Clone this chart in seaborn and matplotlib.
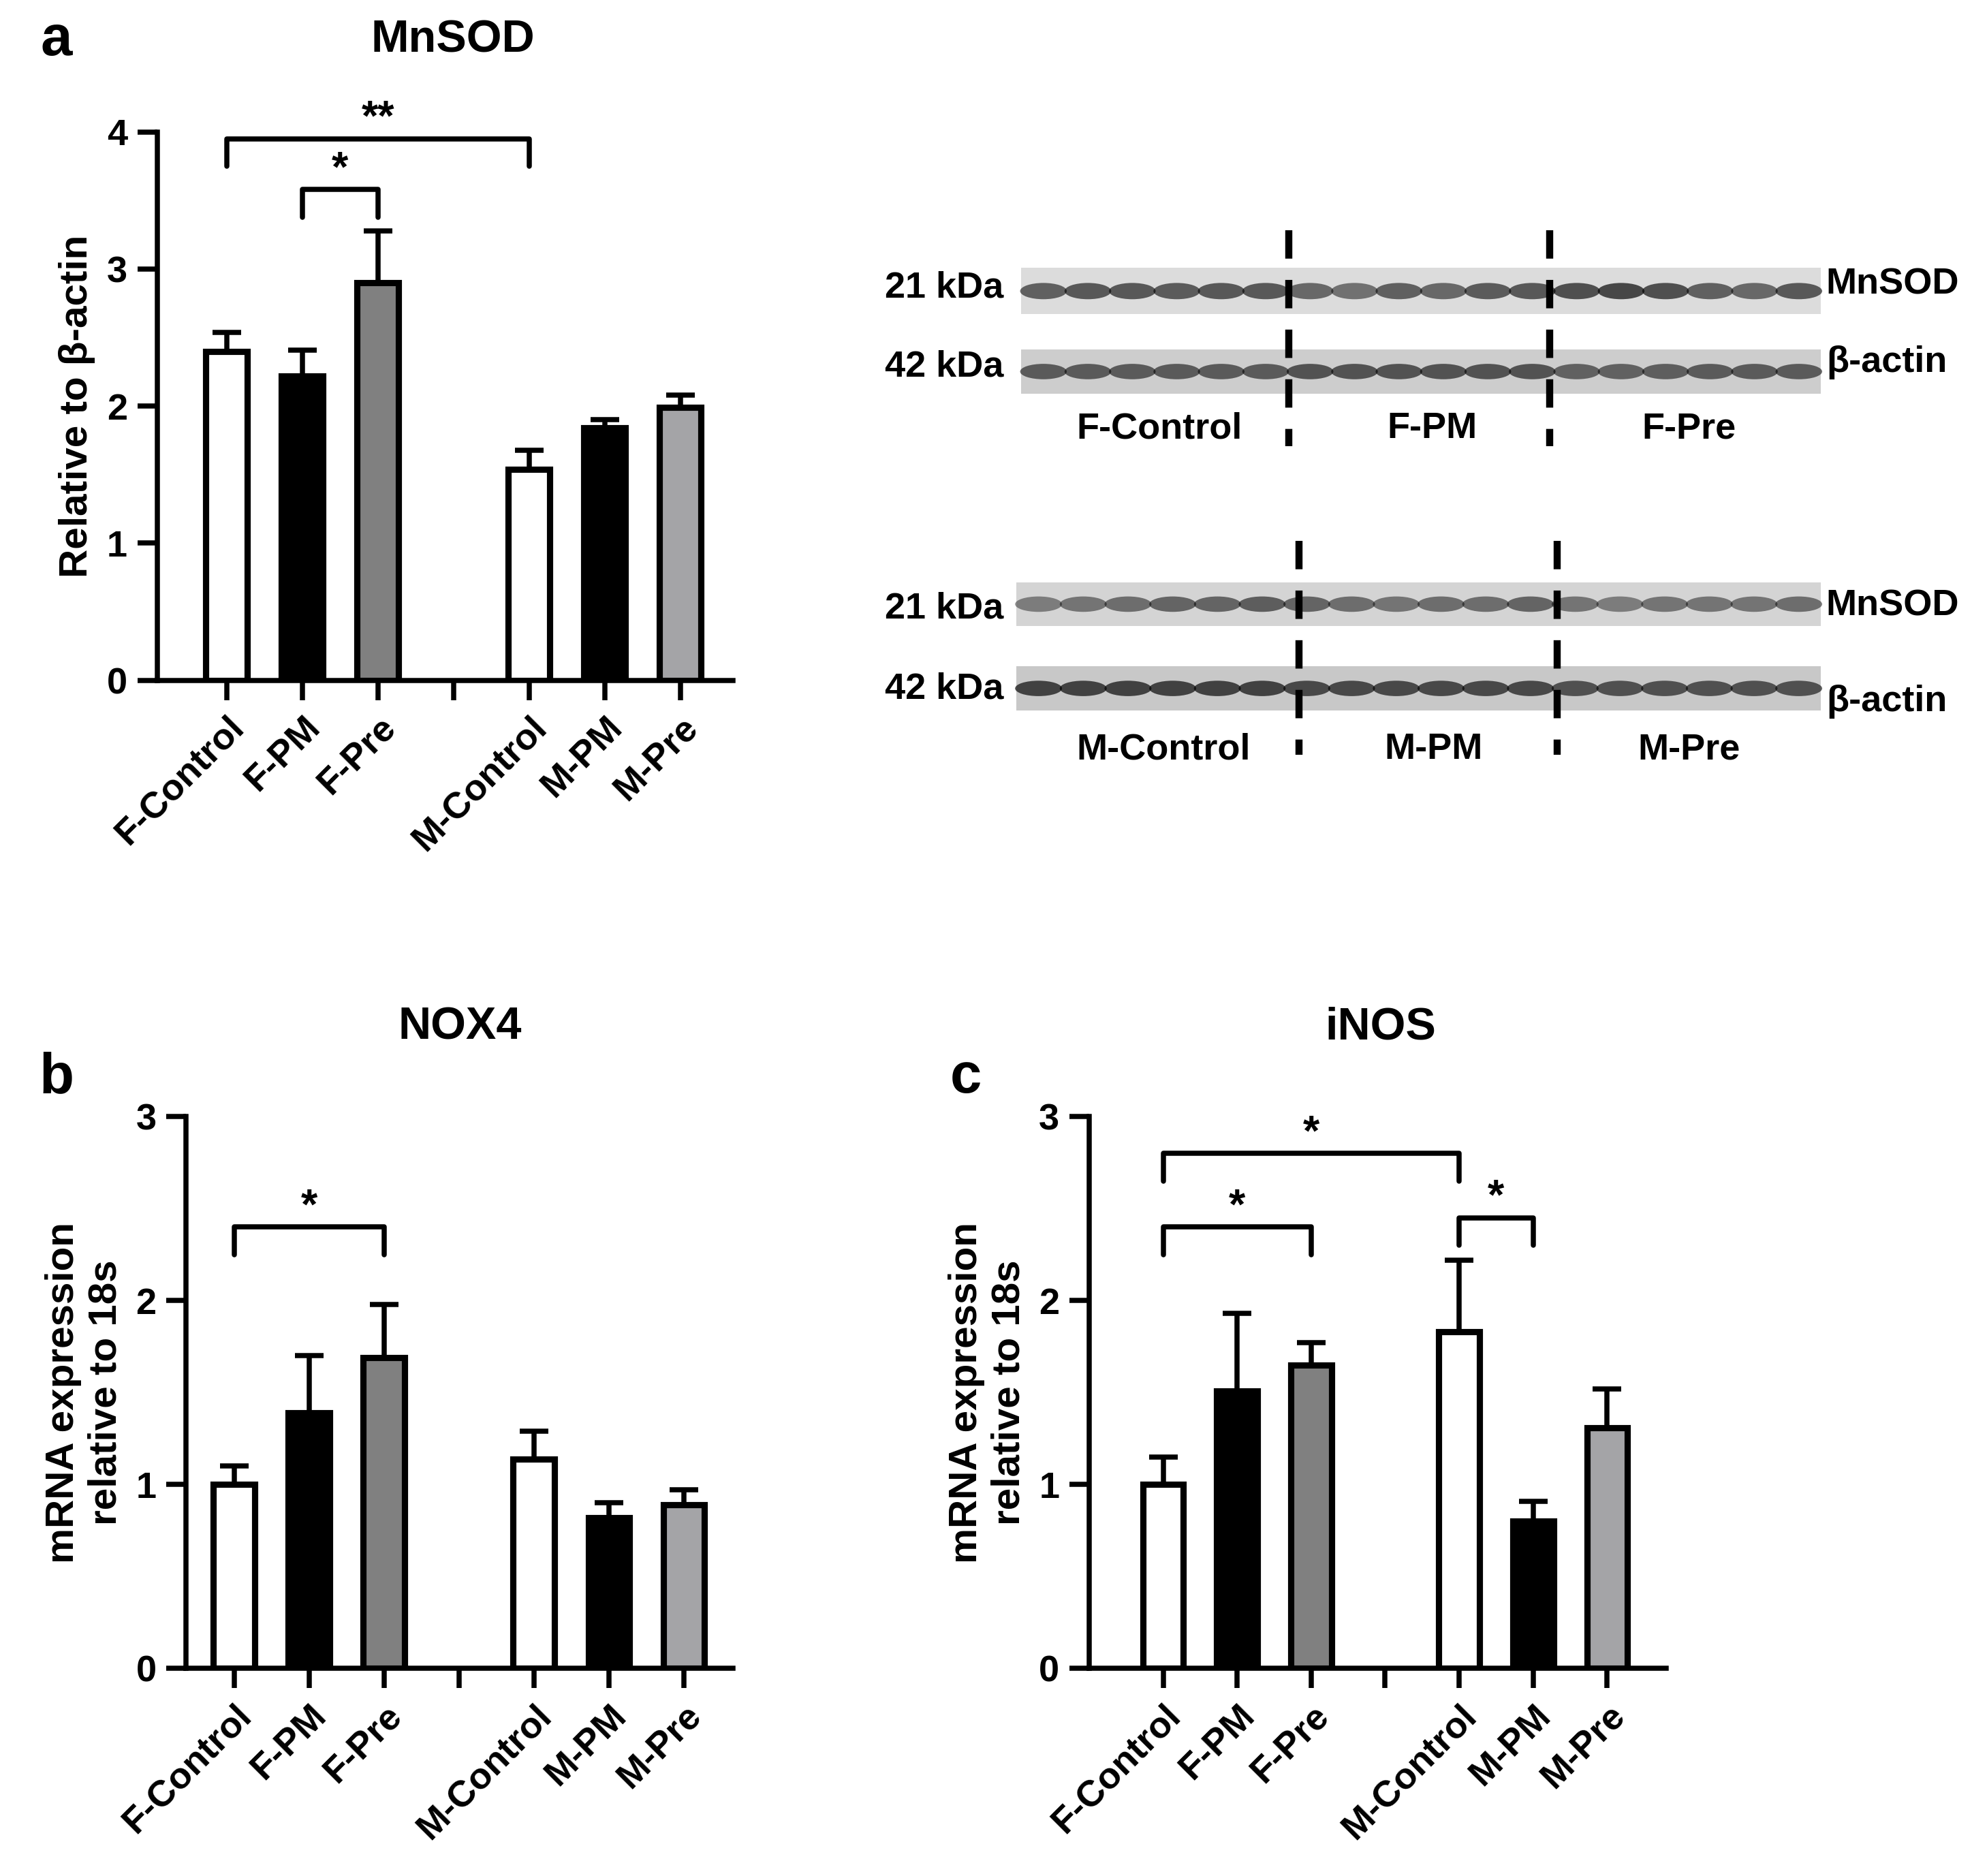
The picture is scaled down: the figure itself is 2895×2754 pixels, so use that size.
import matplotlib
matplotlib.use("Agg")
import matplotlib.pyplot as plt
import seaborn as sns
import pandas as pd
import numpy as np
from matplotlib.patches import Rectangle, Ellipse

groups = ["F-Control", "F-PM", "F-Pre", "", "M-Control", "M-PM", "M-Pre"]
colors = ["white", "black", "#808080", "white", "white", "black", "#a3a3a8"]
mnsod = [2.40, 2.22, 2.90, np.nan, 1.54, 1.84, 1.99]
mnsod_err = [0.14, 0.19, 0.38, 0, 0.14, 0.06, 0.09]
nox4 = [1.00, 1.39, 1.69, np.nan, 1.14, 0.82, 0.89]
nox4_err = [0.10, 0.31, 0.29, 0, 0.15, 0.08, 0.08]
inos = [1.00, 1.51, 1.65, np.nan, 1.83, 0.80, 1.31]
inos_err = [0.15, 0.42, 0.12, 0, 0.39, 0.11, 0.21]

# blot lane intensities (18 lanes each strip)
blot_f_mnsod = [0.75,0.8,0.8,0.78,0.8,0.8, 0.7,0.65,0.75,0.7,0.78,0.8, 0.85,0.9,0.85,0.75,0.7,0.8]
blot_f_actin = [0.75,0.75,0.75,0.75,0.75,0.75, 0.8,0.8,0.8,0.8,0.8,0.8, 0.7,0.7,0.72,0.75,0.75,0.75]
blot_m_mnsod = [0.55,0.6,0.65,0.7,0.7,0.75, 0.7,0.65,0.6,0.65,0.65,0.7, 0.6,0.55,0.6,0.6,0.6,0.65]
blot_m_actin = [0.9,0.9,0.9,0.9,0.9,0.9, 0.85,0.85,0.85,0.85,0.85,0.85, 0.8,0.8,0.8,0.8,0.8,0.8]

sns.set_style("ticks")
plt.rcParams.update({"font.family": "Liberation Sans", "text.color": "black",
                     "axes.labelcolor": "black", "xtick.color": "black", "ytick.color": "black",
                     "axes.edgecolor": "black"})

W, H = 1568, 1492
fig = plt.figure(figsize=(2895/300, 2754/300), dpi=300)

def fx(x): return x / W
def fy(y): return 1 - y / H

def panel(rect, vals, errs, ylim, yticks, ylabel, title, letter, xlim, brackets, letter_pos, title_pos):
    ax = fig.add_axes(rect)
    df = pd.DataFrame({"g": [str(i) for i in range(7)], "v": vals})
    sns.barplot(data=df, x="g", y="v", palette=colors, hue="g", legend=False,
                edgecolor="black", linewidth=2.2, width=0.55, ax=ax)
    for i in range(7):
        if np.isnan(vals[i]): continue
        ax.errorbar(i, vals[i], yerr=[[0], [errs[i]]], color="black", lw=1.8, capsize=5, capthick=1.8)
    ax.set_xlim(*xlim); ax.set_ylim(*ylim)
    ax.set_yticks(yticks)
    ax.set_yticklabels([str(t) for t in yticks], fontsize=13, fontweight="bold")
    ax.set_xticks(range(7))
    ax.set_xticklabels(groups, rotation=45, ha="right", rotation_mode="anchor", fontsize=13, fontweight="bold")
    ax.set_xlabel(""); ax.set_ylabel(ylabel, fontsize=14, fontweight="bold")
    for s in ["top", "right"]: ax.spines[s].set_visible(False)
    for s in ["left", "bottom"]: ax.spines[s].set_linewidth(1.8)
    ax.tick_params(width=1.8, length=7)
    for (a, b, y, d, t) in brackets:
        ax.plot([a, a, b, b], [y - d, y, y, y - d], color="black", lw=1.8, clip_on=False)
        ax.text((a + b) / 2, y, t, ha="center", va="bottom", fontsize=15, fontweight="bold")
    fig.text(fx(title_pos[0]), fy(title_pos[1]), title, ha="center", va="center", fontsize=16, fontweight="bold")
    fig.text(fx(letter_pos[0]), fy(letter_pos[1]), letter, ha="center", va="center", fontsize=20, fontweight="bold")
    return ax

panel([fx(125), fy(541), fx(583-125), (541-105)/H], mnsod, mnsod_err, (0, 4), [0,1,2,3,4],
      "Relative to β-actin", "MnSOD", "a", (-0.92, 6.7),
      [(0, 4, 3.95, 0.2, "**"), (1, 2, 3.58, 0.2, "*")], (45, 32), (360, 32))
panel([fx(148), fy(1327), fx(583-148), (1327-888)/H], nox4, nox4_err, (0, 3), [0,1,2,3],
      "mRNA expression\nrelative to 18s", "NOX4", "b", (-0.64, 6.66),
      [(0, 2, 2.4, 0.15, "*")], (45, 857), (366, 817))
panel([fx(866), fy(1327), fx(1325-866), (1327-888)/H], inos, inos_err, (0, 3), [0,1,2,3],
      "mRNA expression\nrelative to 18s", "iNOS", "c", (-1.0, 6.8),
      [(0, 4, 2.8, 0.15, "*"), (0, 2, 2.4, 0.15, "*"), (4, 5, 2.45, 0.15, "*")], (768, 857), (1098, 817))

# blot overlay
ov = fig.add_axes([0, 0, 1, 1]); ov.set_xlim(0, W); ov.set_ylim(H, 0); ov.axis("off")
def strip(x0, x1, y0, y1, ints, bg):
    ov.add_patch(Rectangle((x0, y0), x1 - x0, y1 - y0, color=bg, lw=0))
    n = len(ints); lw_ = (x1 - x0) / n
    for i, v in enumerate(ints):
        cx = x0 + lw_ * (i + 0.5)
        ov.add_patch(Ellipse((cx, (y0 + y1) / 2), lw_ * 1.05, (y1 - y0) * 0.35, color="black", alpha=v * 0.75, lw=0))
strip(812, 1448, 213, 250, blot_f_mnsod, "#dcdcdc")
strip(812, 1448, 278, 313, blot_f_actin, "#cdcdcd")
strip(808, 1448, 463, 498, blot_m_mnsod, "#d4d4d4")
strip(808, 1448, 530, 565, blot_m_actin, "#c8c8c8")
for x, ya, yb in [(1025, 183, 355), (1232, 183, 355), (1033, 430, 600), (1238, 430, 600)]:
    ov.plot([x, x], [ya, yb], color="black", lw=2.5, ls=(0, (4, 3)))
for y, t in [(229, "21 kDa"), (292, "42 kDa"), (484, "21 kDa"), (548, "42 kDa")]:
    ov.text(798, y, t, ha="right", va="center", fontsize=13, fontweight="bold")
for y, t in [(226, "MnSOD"), (288, "β-actin"), (482, "MnSOD"), (558, "β-actin")]:
    ov.text(1452, y, t, ha="left", va="center", fontsize=13, fontweight="bold")
for x, y, t in [(922, 341, "F-Control"), (1139, 341, "F-PM"), (1343, 341, "F-Pre"),
                (925, 596, "M-Control"), (1140, 596, "M-PM"), (1343, 596, "M-Pre")]:
    ov.text(x, y, t, ha="center", va="center", fontsize=13, fontweight="bold")

fig.savefig("out.png", dpi=300)
